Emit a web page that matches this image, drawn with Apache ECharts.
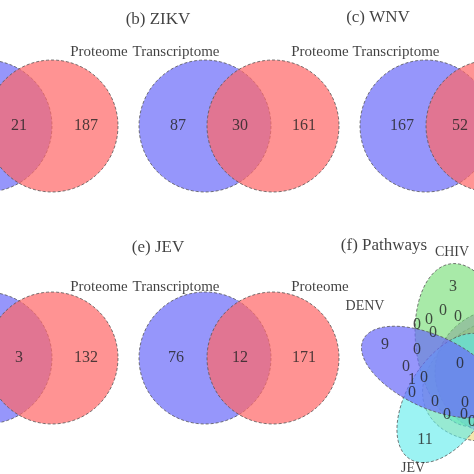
<!DOCTYPE html>
<html><head><meta charset="utf-8">
<script src="https://cdn.jsdelivr.net/npm/echarts@6/dist/echarts.min.js"></script>
<style>html,body{margin:0;padding:0;background:#fff}#c{width:474px;height:474px}</style>
</head><body><div id="c"></div>
<script>
// Two-set Venn panels: [cx, cy, r, setIndex]  (setIndex 0 = Transcriptome, 1 = Proteome)
const vennCircles = [
  [-14,126,66,0],[52,126,66,1],
  [205,126,66,0],[273,126,66,1],
  [426,126,66,0],[492,126,66,1],
  [-14,358,66,0],[52,358,66,1],
  [205,358,66,0],[273,358,66,1]
];
// Pathways ellipses: [cx, cy, rx, ry, rotationDeg, colorIndex]
const pathwayEllipses = [
  [505,378,85,60,-20,5],
  [505,372,70,64,0,4],
  [462,345,46,82,-8,2],
  [448,398,40,72,32,3],
  [432,372,76,36,25,0]
];
const colors = ['rgba(105,105,250,0.7)','rgba(255,105,105,0.72)','rgba(110,220,110,0.6)','rgba(90,235,235,0.6)','rgba(170,90,210,0.55)','rgba(230,210,90,0.5)'];
// count labels [x, y, value]
const counts = [
  [19,126,21],[86,126,187],[178,126,87],[240,126,30],[304,126,161],[402,126,167],[460,126,52],
  [19,358,3],[86,358,132],[176,358,76],[240,358,12],[304,358,171],
  [453,287,3],[385,345,9],[425,440,11],[460,364,0],
  [443,311,0],[458,317,0],[417,325,0],[429,320,0],[433,333,0],[417,350,0],[406,367,0],
  [412,380,1],[412,393,0],[424,378,0],[435,402,0],[447,415,0],[465,403,0],[464,415,0],[472,422,0]
];
// texts [x, y, text, size]
const texts = [
  [158,20,'(b) ZIKV',17],[378,18,'(c) WNV',17],
  [99,52,'Proteome',15],[176,52,'Transcriptome',15],[320,52,'Proteome',15],[396,52,'Transcriptome',15],
  [158,248,'(e) JEV',17],[384,246,'(f) Pathways',17],
  [99,287,'Proteome',15],[176,287,'Transcriptome',15],[320,287,'Proteome',15],
  [452,252,'CHIV',14],[365,306,'DENV',14],[413,468,'JEV',14]
];
const ellipseData = vennCircles.map(c=>[c[0],c[1],c[2],c[2],0,c[3]]).concat(pathwayEllipses);
function renderEllipse(params, api){
  const cx=api.value(0), cy=api.value(1), rx=api.value(2), ry=api.value(3), rot=api.value(4)*Math.PI/180, ci=api.value(5);
  const pts=[];
  for(let i=0;i<96;i++){
    const t=i/96*Math.PI*2, x=rx*Math.cos(t), y=ry*Math.sin(t);
    pts.push(api.coord([cx+x*Math.cos(rot)-y*Math.sin(rot), cy+x*Math.sin(rot)+y*Math.cos(rot)]));
  }
  return {type:'polygon',shape:{points:pts},style:{fill:colors[ci],stroke:'#555',lineWidth:0.8,lineDash:[3,2]}};
}
const font='"Liberation Serif","DejaVu Serif",serif';
const chart=echarts.init(document.getElementById('c'));
chart.setOption({
  animation:false,
  grid:{left:0,right:0,top:0,bottom:0},
  xAxis:{type:'value',min:0,max:474,show:false},
  yAxis:{type:'value',min:0,max:474,inverse:true,show:false},
  series:[
    {type:'custom',renderItem:renderEllipse,data:ellipseData,clip:true,silent:true},
    {type:'scatter',symbolSize:0,data:counts.map(c=>[c[0],c[1],c[2]]),
     label:{show:true,position:'inside',formatter:p=>String(p.value[2]),color:'#222',fontSize:16,fontFamily:font}},
    {type:'scatter',symbolSize:0,data:texts.map(t=>({value:[t[0],t[1]],name:t[2],label:{fontSize:t[3]}})),
     label:{show:true,position:'inside',formatter:p=>p.name,color:'#111',fontFamily:font}}
  ]
});
</script></body></html>
